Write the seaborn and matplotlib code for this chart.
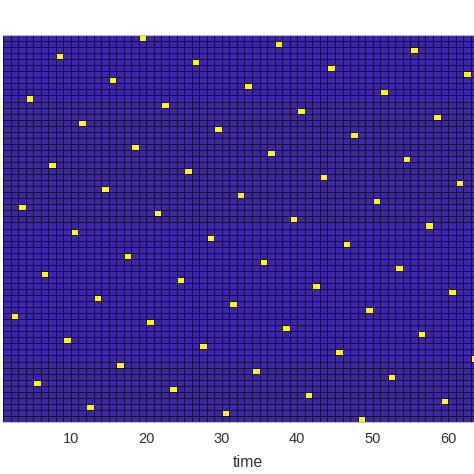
import numpy as np
import pandas as pd
import seaborn as sns
import matplotlib.pyplot as plt
from matplotlib.colors import ListedColormap

# one lit cell per row (row 0 at top); value = column index of the yellow cell
lit_col = [18, 36, 54, 7, 25, 43, 61, 14, 32, 50, 3, 21, 39, 57, 10, 28,
           46, 64, 17, 35, 53, 6, 24, 42, 60, 13, 31, 49, 2, 20, 38, 56,
           9, 27, 45, 63, 16, 34, 52, 5, 23, 41, 59, 12, 30, 48, 1, 19,
           37, 55, 8, 26, 44, 62, 15, 33, 51, 4, 22, 40, 58, 11, 29, 47]
time = list(range(1, 66))
tick_times = [10, 20, 30, 40, 50, 60]

grid = np.zeros((len(lit_col), len(time)))
for r, c in enumerate(lit_col):
    grid[r, c] = 1
df = pd.DataFrame(grid, columns=time)

parula_lo = "#3E26A8"
parula_hi = "#F9FB14"

plt.rcParams["font.family"] = ["Liberation Sans", "DejaVu Sans"]

fig = plt.figure(figsize=(4.74, 4.74), dpi=100)
W, H = 474.0, 474.0
ax = fig.add_axes([3 / W, (H - 422) / H, 490.4 / W, 387 / H])

sns.heatmap(df, cmap=ListedColormap([parula_lo, parula_hi]), cbar=False,
            linewidths=0.45, linecolor="#1a0e40", ax=ax,
            xticklabels=False, yticklabels=False)

# pcolor style: tick sits on the left edge of the cell for that time
ax.set_xticks([time.index(t) for t in tick_times])
ax.set_xticklabels([str(t) for t in tick_times], fontsize=10.5, color="#333333")
ax.tick_params(axis="x", length=0, pad=7)
ax.tick_params(axis="y", length=0)
ax.set_xlabel("time", fontsize=11.5, color="#333333", labelpad=7)
ax.set_ylabel("")

for s in ["top", "bottom"]:
    ax.spines[s].set_visible(True)
    ax.spines[s].set_color("#bdbdbd")
    ax.spines[s].set_linewidth(0.8)

fig.savefig("out.png", dpi=100)
